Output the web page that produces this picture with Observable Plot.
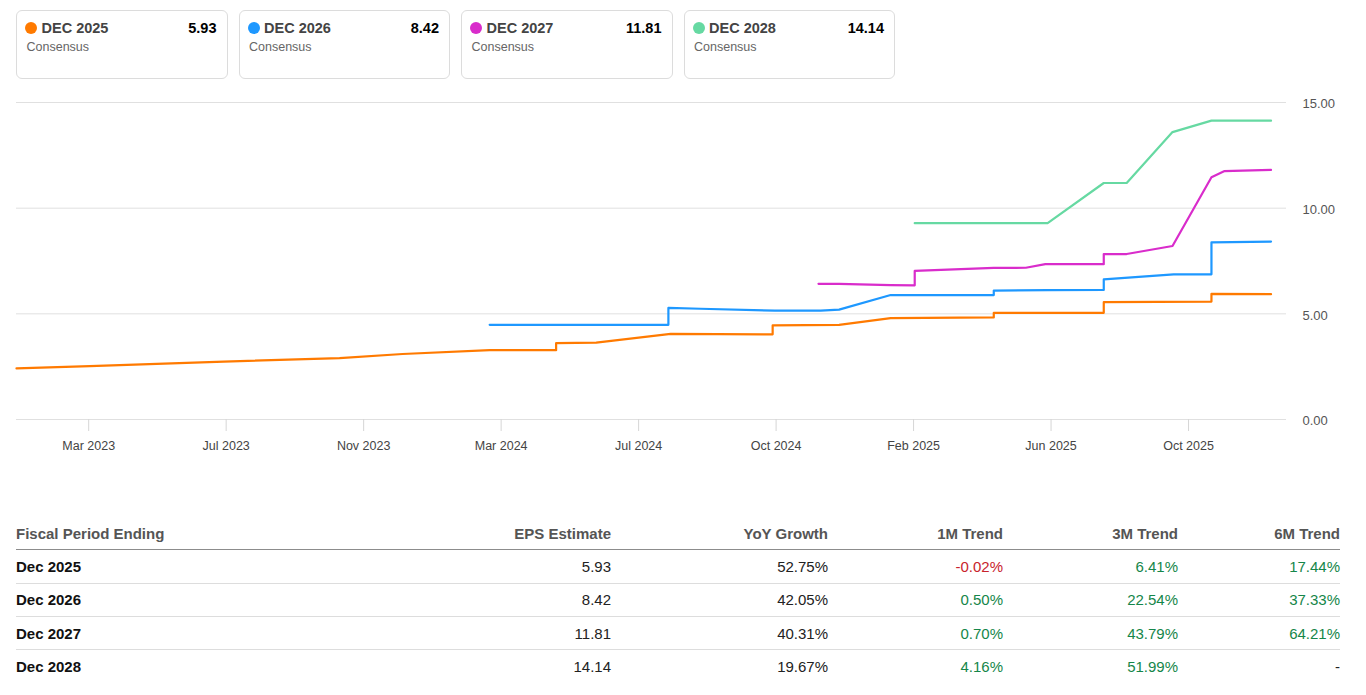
<!DOCTYPE html>
<html>
<head>
<meta charset="utf-8">
<script src="https://cdn.jsdelivr.net/npm/d3@7"></script>
<script src="https://cdn.jsdelivr.net/npm/@observablehq/plot@0.6"></script>
<style>
  html, body { margin: 0; padding: 0; background: #fff; overflow: hidden; }
  body { width: 1366px; height: 695px; position: relative; font-family: "Liberation Sans", Arial, sans-serif; }
  .card { position: absolute; top: 9.5px; width: 211.5px; height: 69px; box-sizing: border-box; border: 1px solid #dcdcdc; border-radius: 6px; background: #fff; }
  .card .dot { position: absolute; left: 8px; top: 11px; width: 12px; height: 12px; border-radius: 50%; }
  .card .ttl { position: absolute; left: 24.5px; top: 8px; font-size: 14.5px; font-weight: bold; color: #444; line-height: 18px; }
  .card .val { position: absolute; right: 10px; top: 8px; font-size: 14.5px; font-weight: bold; color: #000; line-height: 18px; }
  .card .sub { position: absolute; left: 9.5px; top: 28px; font-size: 12.5px; color: #666; line-height: 16px; }
  #chart { position: absolute; left: 0; top: 90px; }
  #table { position: absolute; left: 16px; top: 517px; width: 1324px; }
  .row { display: flex; height: 33.33px; box-sizing: border-box; border-bottom: 1px solid #dddddd; align-items: center; font-size: 15px; }
  .row.head { border-bottom: 1px solid #8c8c8c; color: #555; font-weight: bold; }
  .row.last { border-bottom: none; }
  .cell { text-align: right; white-space: nowrap; }
  .cell.first { text-align: left; }
  .row.body .cell.first { font-weight: bold; color: #111; }
  .row.body .cell { color: #222; }
</style>
</head>
<body>
<div id="cards"></div>
<div id="chart"></div>
<div id="table"></div>
<script>
// ---------- data ----------
const seriesNames = ["DEC 2025", "DEC 2026", "DEC 2027", "DEC 2028"];
const seriesColors = ["#ff7a00", "#1e98ff", "#d92ccb", "#66d9a2"];
const consensusValues = [5.93, 8.42, 11.81, 14.14];

const dec2025Dates = ["2023-01-06","2023-03-11","2023-07-06","2023-10-15","2023-12-09","2024-02-23","2024-04-21","2024-04-21","2024-05-26","2024-07-30","2024-10-27","2024-10-27","2024-12-24","2025-02-07","2025-05-08","2025-05-08","2025-08-12","2025-08-12","2025-11-14","2025-11-14","2026-01-05"];
const dec2025Values = [2.42, 2.53, 2.74, 2.90, 3.10, 3.28, 3.28, 3.61, 3.64, 4.05, 4.03, 4.45, 4.48, 4.80, 4.83, 5.05, 5.05, 5.55, 5.58, 5.94, 5.93];

const dec2026Dates = ["2024-02-23","2024-07-28","2024-07-28","2024-08-25","2024-10-29","2024-12-08","2024-12-24","2025-02-07","2025-05-08","2025-05-08","2025-06-24","2025-08-12","2025-08-12","2025-10-12","2025-11-14","2025-11-14","2026-01-05"];
const dec2026Values = [4.48, 4.48, 5.28, 5.24, 5.15, 5.15, 5.20, 5.89, 5.89, 6.10, 6.12, 6.13, 6.63, 6.87, 6.87, 8.38, 8.42];

const dec2027Dates = ["2024-12-06","2024-12-24","2025-02-07","2025-02-28","2025-02-28","2025-05-08","2025-06-05","2025-06-22","2025-08-12","2025-08-12","2025-09-01","2025-10-11","2025-11-14","2025-11-25","2026-01-05"];
const dec2027Values = [6.42, 6.42, 6.36, 6.35, 7.03, 7.17, 7.18, 7.35, 7.35, 7.83, 7.83, 8.21, 11.46, 11.75, 11.81];

const dec2028Dates = ["2025-02-28","2025-06-24","2025-08-12","2025-09-01","2025-10-11","2025-11-14","2026-01-05"];
const dec2028Values = [9.29, 9.29, 11.19, 11.19, 13.60, 14.14, 14.14];

const yTicks = [0, 5, 10, 15];
const xTickDates = ["2023-03-10","2023-07-08","2023-11-05","2024-03-04","2024-07-02","2024-10-30","2025-02-27","2025-06-27","2025-10-25"];
const xDomain = ["2023-01-06", "2026-01-18T12:00"];

const tableHeaders = ["Fiscal Period Ending", "EPS Estimate", "YoY Growth", "1M Trend", "3M Trend", "6M Trend"];
const periods = ["Dec 2025", "Dec 2026", "Dec 2027", "Dec 2028"];
const epsEstimates = [5.93, 8.42, 11.81, 14.14];
const yoyGrowth = [52.75, 42.05, 40.31, 19.67];
const trend1M = [-0.02, 0.50, 0.70, 4.16];
const trend3M = [6.41, 22.54, 43.79, 51.99];
const trend6M = [17.44, 37.33, 64.21, null];

// ---------- cards ----------
const cards = document.getElementById("cards");
seriesNames.forEach((name, i) => {
  const c = document.createElement("div");
  c.className = "card";
  c.style.left = (16 + i * 222.5) + "px";
  c.innerHTML = `<div class="dot" style="background:${seriesColors[i]}"></div>
    <div class="ttl">${name}</div><div class="val">${consensusValues[i].toFixed(2)}</div>
    <div class="sub">Consensus</div>`;
  cards.appendChild(c);
});

// ---------- chart ----------
const seriesDates = [dec2025Dates, dec2026Dates, dec2027Dates, dec2028Dates];
const seriesValues = [dec2025Values, dec2026Values, dec2027Values, dec2028Values];
const rows = [];
seriesNames.forEach((name, i) => {
  seriesDates[i].forEach((d, j) => rows.push({series: name, date: new Date(d), value: seriesValues[i][j]}));
});

const chart = Plot.plot({
  width: 1366,
  height: 380,
  marginTop: 12,
  marginBottom: 51,
  marginLeft: 16,
  marginRight: 80,
  style: {fontFamily: '"Liberation Sans", Arial, sans-serif', background: "transparent"},
  x: {type: "utc", domain: xDomain.map(d => new Date(d))},
  y: {domain: [0, 15]},
  color: {domain: seriesNames, range: seriesColors},
  marks: [
    Plot.ruleY(yTicks, {stroke: "#e0e0e0", strokeWidth: 1}),
    Plot.axisX({ticks: xTickDates.map(d => new Date(d)), tickFormat: "%b %Y", tickSize: 12, tickPadding: 10,
      stroke: "#d6d6d6", fill: "#444", fontSize: 12.5, label: null}),
    Plot.axisY({anchor: "right", ticks: yTicks, tickFormat: d => d.toFixed(2), tickSize: 0, tickPadding: 16,
      textAnchor: "start", fill: "#555", fontSize: 13, dy: 1.5, label: null}),
    Plot.line(rows, {x: "date", y: "value", z: "series", stroke: "series", strokeWidth: 2.2, curve: "linear"})
  ]
});
document.getElementById("chart").appendChild(chart);

// ---------- table ----------
const colWidths = [384, 211, 217, 175, 175, 162];
const table = document.getElementById("table");
const green = "#15864a", red = "#c8232c";
function cell(text, i, color) {
  return `<div class="cell${i === 0 ? " first" : ""}" style="width:${colWidths[i]}px;${color ? "color:" + color + " !important;" : ""}">${text}</div>`;
}
let html = `<div class="row head">${tableHeaders.map((h, i) => cell(h, i)).join("")}</div>`;
const pct = v => v == null ? "-" : v.toFixed(2) + "%";
const trendColor = v => v == null ? "#222" : (v < 0 ? red : green);
periods.forEach((p, r) => {
  html += `<div class="row body${r === periods.length - 1 ? " last" : ""}">` +
    cell(p, 0) + cell(epsEstimates[r].toFixed(2), 1) + cell(pct(yoyGrowth[r]), 2) +
    cell(pct(trend1M[r]), 3, trendColor(trend1M[r])) +
    cell(pct(trend3M[r]), 4, trendColor(trend3M[r])) +
    cell(pct(trend6M[r]), 5, trendColor(trend6M[r])) + `</div>`;
});
table.innerHTML = html;
</script>
</body>
</html>
